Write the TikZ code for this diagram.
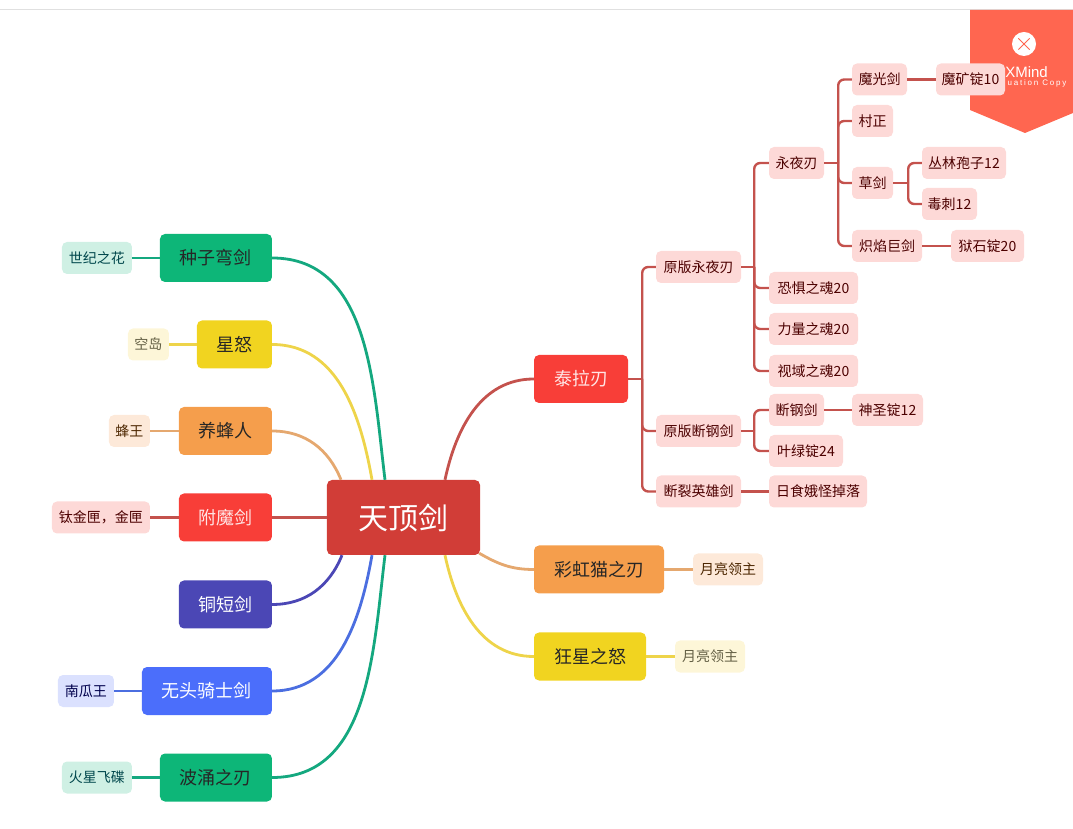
\documentclass[tikz,border=0pt]{standalone}
\usepackage{fontspec}
\setmainfont{Noto Sans CJK SC}
\newfontfamily\markfont[LetterSpace=22]{Liberation Sans}
\newfontfamily\logofont{Liberation Sans}
\usepackage{xcolor}
\definecolor{rootred}{HTML}{D13D37}
\definecolor{markred}{HTML}{FF6650}
\definecolor{topred}{HTML}{F83E38}
\definecolor{toporange}{HTML}{F59E4C}
\definecolor{topyellow}{HTML}{F1D420}
\definecolor{topgreen}{HTML}{0DB678}
\definecolor{topblue}{HTML}{4B6EFB}
\definecolor{topindigo}{HTML}{4B47B5}
\definecolor{leafred}{HTML}{FDD9D7}
\definecolor{leaforange}{HTML}{FDE9D9}
\definecolor{leafyellow}{HTML}{FDF6D8}
\definecolor{leafgreen}{HTML}{CFF0E4}
\definecolor{leafblue}{HTML}{DBE1FE}
\definecolor{linered}{HTML}{C4524D}
\definecolor{lineorange}{HTML}{E5A86F}
\definecolor{lineyellow}{HTML}{EED44A}
\definecolor{linegreen}{HTML}{14A87F}
\definecolor{lineblue}{HTML}{4B6EE0}
\definecolor{lineindigo}{HTML}{4B47B5}
\usetikzlibrary{shapes.geometric, arrows}

\begin{document}
\begin{tikzpicture}[node distance=100pt]
	\tikzstyle{central} = [rectangle, rounded corners=5pt, minimum width=153pt, minimum height=75pt, inner sep=0pt, text centered, fill=rootred, text=white, font=\fontsize{30}{34}\selectfont]
	
	\tikzstyle{branch} = [rectangle, rounded corners=5pt, minimum height=48pt, inner sep=0pt, text centered, text=black!85, font=\fontsize{18}{22}\selectfont]
	
	\tikzstyle{leaf} = [rectangle, rounded corners=5pt, minimum height=32pt, inner sep=0pt, text centered, fill=leafred, text=black!70!red, font=\fontsize{14}{17}\selectfont]
	
	\tikzstyle{link} = [line width=2.8pt]
	\tikzstyle{sublink} = [line width=2.4pt, color=linered, rounded corners=6pt]
	
	\useasboundingbox (-403.5pt,-311.5pt) rectangle (669.5pt,517.5pt);
	
	% Top rule and watermark
	\coordinate (ruleleft) at (-403.5pt,508pt);
	\coordinate (ruleright) at (669.5pt,508pt);
	\draw [color=black!12, line width=1pt] (ruleleft) -- (ruleright);
	\fill [markred] (566.5pt,507.5pt) -- (669.5pt,507.5pt) -- (669.5pt,404.5pt) -- (621.5pt,384.5pt) -- (566.5pt,407.5pt) -- cycle;
	\node (markcircle) [circle, fill=white, minimum size=24pt, inner sep=0pt] at (620.5pt,473.5pt) {};
	\draw [markred, line width=1pt] (markcircle.north east) ++(-3pt,-3pt) -- ([xshift=3pt,yshift=3pt]markcircle.south west);
	\draw [markred, line width=1pt] (markcircle.north west) ++(3pt,-3pt) -- ([xshift=-3pt,yshift=3pt]markcircle.south east);
	\node (markname) [text=white, font=\logofont\fontsize{15}{17}\selectfont] at (623pt,445.5pt) {XMind};
	\node (markcopy) [text=white, font=\markfont\fontsize{8}{10}\selectfont] at (633.5pt,434pt) {uation Copy};
	
	% Centre of the figure
	\node (root) [central] at (0pt,0pt) {天顶剑};
	
	% Left branches
	\node (seed) [branch, fill=topgreen, minimum width=112pt, left of = root, xshift=-87.5pt, yshift=259.5pt] {种子弯剑};
	\node (star) [branch, fill=topyellow, minimum width=75pt, left of = root, xshift=-69pt, yshift=173pt] {星怒};
	\node (bee) [branch, fill=toporange, minimum width=93pt, left of = root, xshift=-78pt, yshift=86.5pt] {养蜂人};
	\node (enchanted) [branch, fill=topred, text=white!90!red, minimum width=93pt, left of = root, xshift=-78pt] {附魔剑};
	\node (copper) [branch, fill=topindigo, text=white!85, minimum width=93pt, left of = root, xshift=-78pt, yshift=-87pt] {铜短剑};
	\node (headless) [branch, fill=topblue, text=white!90, minimum width=130pt, left of = root, xshift=-96.5pt, yshift=-173.5pt] {无头骑士剑};
	\node (wave) [branch, fill=topgreen, minimum width=112pt, left of = root, xshift=-87.5pt, yshift=-260pt] {波涌之刃};
	
	% Left leaves
	\node (flower) [leaf, fill=leafgreen, text=black!60!green!70!blue, minimum width=70pt, left of = seed, xshift=-19pt] {世纪之花};
	\node (island) [leaf, fill=leafyellow, text=black!70!yellow, minimum width=41pt, left of = star, xshift=14pt] {空岛};
	\node (queen) [leaf, fill=leaforange, text=black!70!orange, minimum width=41pt, left of = bee, xshift=4pt] {蜂王};
	\node (chest) [leaf, minimum width=98pt, left of = enchanted, xshift=-24.5pt] {钛金匣，金匣};
	\node (pumpkin) [leaf, fill=leafblue, text=black!70!blue, minimum width=56pt, left of = headless, xshift=-21pt] {南瓜王};
	\node (saucer) [leaf, fill=leafgreen, text=black!60!green!70!blue, minimum width=70pt, left of = wave, xshift=-19pt] {火星飞碟};
	
	% Right branches
	\node (terra) [branch, fill=topred, text=white!90!red, minimum width=94pt, right of = root, xshift=77.5pt, yshift=138.5pt] {泰拉刃};
	\node (rainbow) [branch, fill=toporange, minimum width=130pt, right of = root, xshift=95.5pt, yshift=-52pt] {彩虹猫之刃};
	\node (madstar) [branch, fill=topyellow, minimum width=112pt, right of = root, xshift=86.5pt, yshift=-139pt] {狂星之怒};
	\node (moonone) [leaf, fill=leaforange, text=black!70!orange, minimum width=70pt, right of = rainbow, xshift=29pt] {月亮领主};
	\node (moontwo) [leaf, fill=leafyellow, text=black!70!yellow, minimum width=70pt, right of = madstar, xshift=20pt] {月亮领主};
	
	% Level 1 under terra
	\node (orignight) [leaf, minimum width=85pt, right of = terra, xshift=17.5pt, yshift=112pt] {原版永夜刃};
	\node (origbreak) [leaf, minimum width=85pt, right of = terra, xshift=17.5pt, yshift=-52pt] {原版断钢剑};
	\node (broken) [leaf, minimum width=85pt, right of = terra, xshift=17.5pt, yshift=-112.5pt] {断裂英雄剑};
	
	% Level 2
	\node (nightedge) [leaf, minimum width=55pt, right of = orignight, xshift=-2pt, yshift=104pt] {永夜刃};
	\node (fear) [leaf, minimum width=89pt, right of = orignight, xshift=15pt, yshift=-21pt] {恐惧之魂20};
	\node (might) [leaf, minimum width=89pt, right of = orignight, xshift=15pt, yshift=-62pt] {力量之魂20};
	\node (sight) [leaf, minimum width=89pt, right of = orignight, xshift=15pt, yshift=-104pt] {视域之魂20};
	\node (excalibur) [leaf, minimum width=55pt, right of = origbreak, xshift=-2pt, yshift=21pt] {断钢剑};
	\node (chloro) [leaf, minimum width=74pt, right of = origbreak, xshift=7.5pt, yshift=-20pt] {叶绿锭24};
	\node (hallowed) [leaf, minimum width=71pt, right of = excalibur, xshift=-9pt] {神圣锭12};
	\node (eclipse) [leaf, minimum width=98pt, right of = broken, xshift=19.5pt] {日食娥怪掉落};
	
	% Level 3
	\node (lights) [leaf, minimum width=55pt, right of = nightedge, xshift=-17pt, yshift=83.5pt] {魔光剑};
	\node (muramasa) [leaf, minimum width=41pt, right of = nightedge, xshift=-24pt, yshift=42pt] {村正};
	\node (grass) [leaf, minimum width=41pt, right of = nightedge, xshift=-24pt, yshift=-20pt] {草剑};
	\node (fiery) [leaf, minimum width=70pt, right of = nightedge, xshift=-9.5pt, yshift=-83pt] {炽焰巨剑};
	\node (demonite) [leaf, minimum width=69pt, right of = lights, xshift=-9pt] {魔矿锭10};
	\node (spore) [leaf, minimum width=84pt, right of = grass, xshift=-8.5pt, yshift=20pt] {丛林孢子12};
	\node (stinger) [leaf, minimum width=55pt, right of = grass, xshift=-23pt, yshift=-21pt] {毒刺12};
	\node (hellstone) [leaf, minimum width=73pt, right of = fiery, xshift=0.5pt] {狱石锭20};
	
	% Curves from the centre
	\draw [link, linegreen] (seed.east) to [out=0, in=97] ([xshift=-18.5pt]root.north);
	\draw [link, lineyellow] (star.east) to [out=0, in=100] ([xshift=-31.5pt]root.north);
	\draw [link, lineorange] (bee.east) to [out=0, in=112] ([xshift=-62.5pt]root.north);
	\draw [link, linered] (enchanted) -- (root);
	\draw [link, lineindigo] (copper.east) to [out=0, in=-112] ([xshift=-61.5pt]root.south);
	\draw [link, lineblue] (headless.east) to [out=0, in=-100] ([xshift=-31.5pt]root.south);
	\draw [link, linegreen] (wave.east) to [out=0, in=-97] ([xshift=-18.5pt]root.south);
	\draw [link, linered] ([xshift=41.5pt]root.north) to [out=78, in=180] (terra.west);
	\draw [link, lineorange] (root.south east) ++(-1pt,2pt) to [out=-30, in=180] (rainbow.west);
	\draw [link, lineyellow] ([xshift=41.5pt]root.south) to [out=-78, in=180] (madstar.west);
	
	% Straight ends
	\draw [link, linegreen] (flower) -- (seed);
	\draw [link, lineyellow] (island) -- (star);
	\draw [link, lineorange] (queen) -- (bee);
	\draw [link, linered] (chest) -- (enchanted);
	\draw [link, lineblue] (pumpkin) -- (headless);
	\draw [link, linegreen] (saucer) -- (wave);
	\draw [link, lineorange] (rainbow) -- (moonone);
	\draw [link, lineyellow] (madstar) -- (moontwo);
	
	% Joints of the brackets
	\coordinate (terrajoin) at ([xshift=14pt]terra.east);
	\coordinate (nightjoin) at ([xshift=13pt]orignight.east);
	\coordinate (breakjoin) at ([xshift=13pt]origbreak.east);
	\coordinate (edgejoin) at ([xshift=14pt]nightedge.east);
	\coordinate (grassjoin) at ([xshift=15pt]grass.east);
	
	% Brackets
	\draw [sublink] (terra.east) -- (terrajoin);
	\draw [sublink] (terrajoin) |- (orignight.west);
	\draw [sublink] (terrajoin) |- (origbreak.west);
	\draw [sublink] (terrajoin) |- (broken.west);
	\draw [sublink] (orignight.east) -- (nightjoin);
	\draw [sublink] (nightjoin) |- (nightedge.west);
	\draw [sublink] (nightjoin) |- (fear.west);
	\draw [sublink] (nightjoin) |- (might.west);
	\draw [sublink] (nightjoin) |- (sight.west);
	\draw [sublink] (origbreak.east) -- (breakjoin);
	\draw [sublink] (breakjoin) |- (excalibur.west);
	\draw [sublink] (breakjoin) |- (chloro.west);
	\draw [sublink] (nightedge.east) -- (edgejoin);
	\draw [sublink] (edgejoin) |- (lights.west);
	\draw [sublink] (edgejoin) |- (muramasa.west);
	\draw [sublink] (edgejoin) |- (grass.west);
	\draw [sublink] (edgejoin) |- (fiery.west);
	\draw [sublink] (grass.east) -- (grassjoin);
	\draw [sublink] (grassjoin) |- (spore.west);
	\draw [sublink] (grassjoin) |- (stinger.west);
	\draw [sublink] (lights) -- (demonite);
	\draw [sublink] (fiery) -- (hellstone);
	\draw [sublink] (excalibur) -- (hallowed);
	\draw [sublink] (broken) -- (eclipse);
\end{tikzpicture}
\end{document}
